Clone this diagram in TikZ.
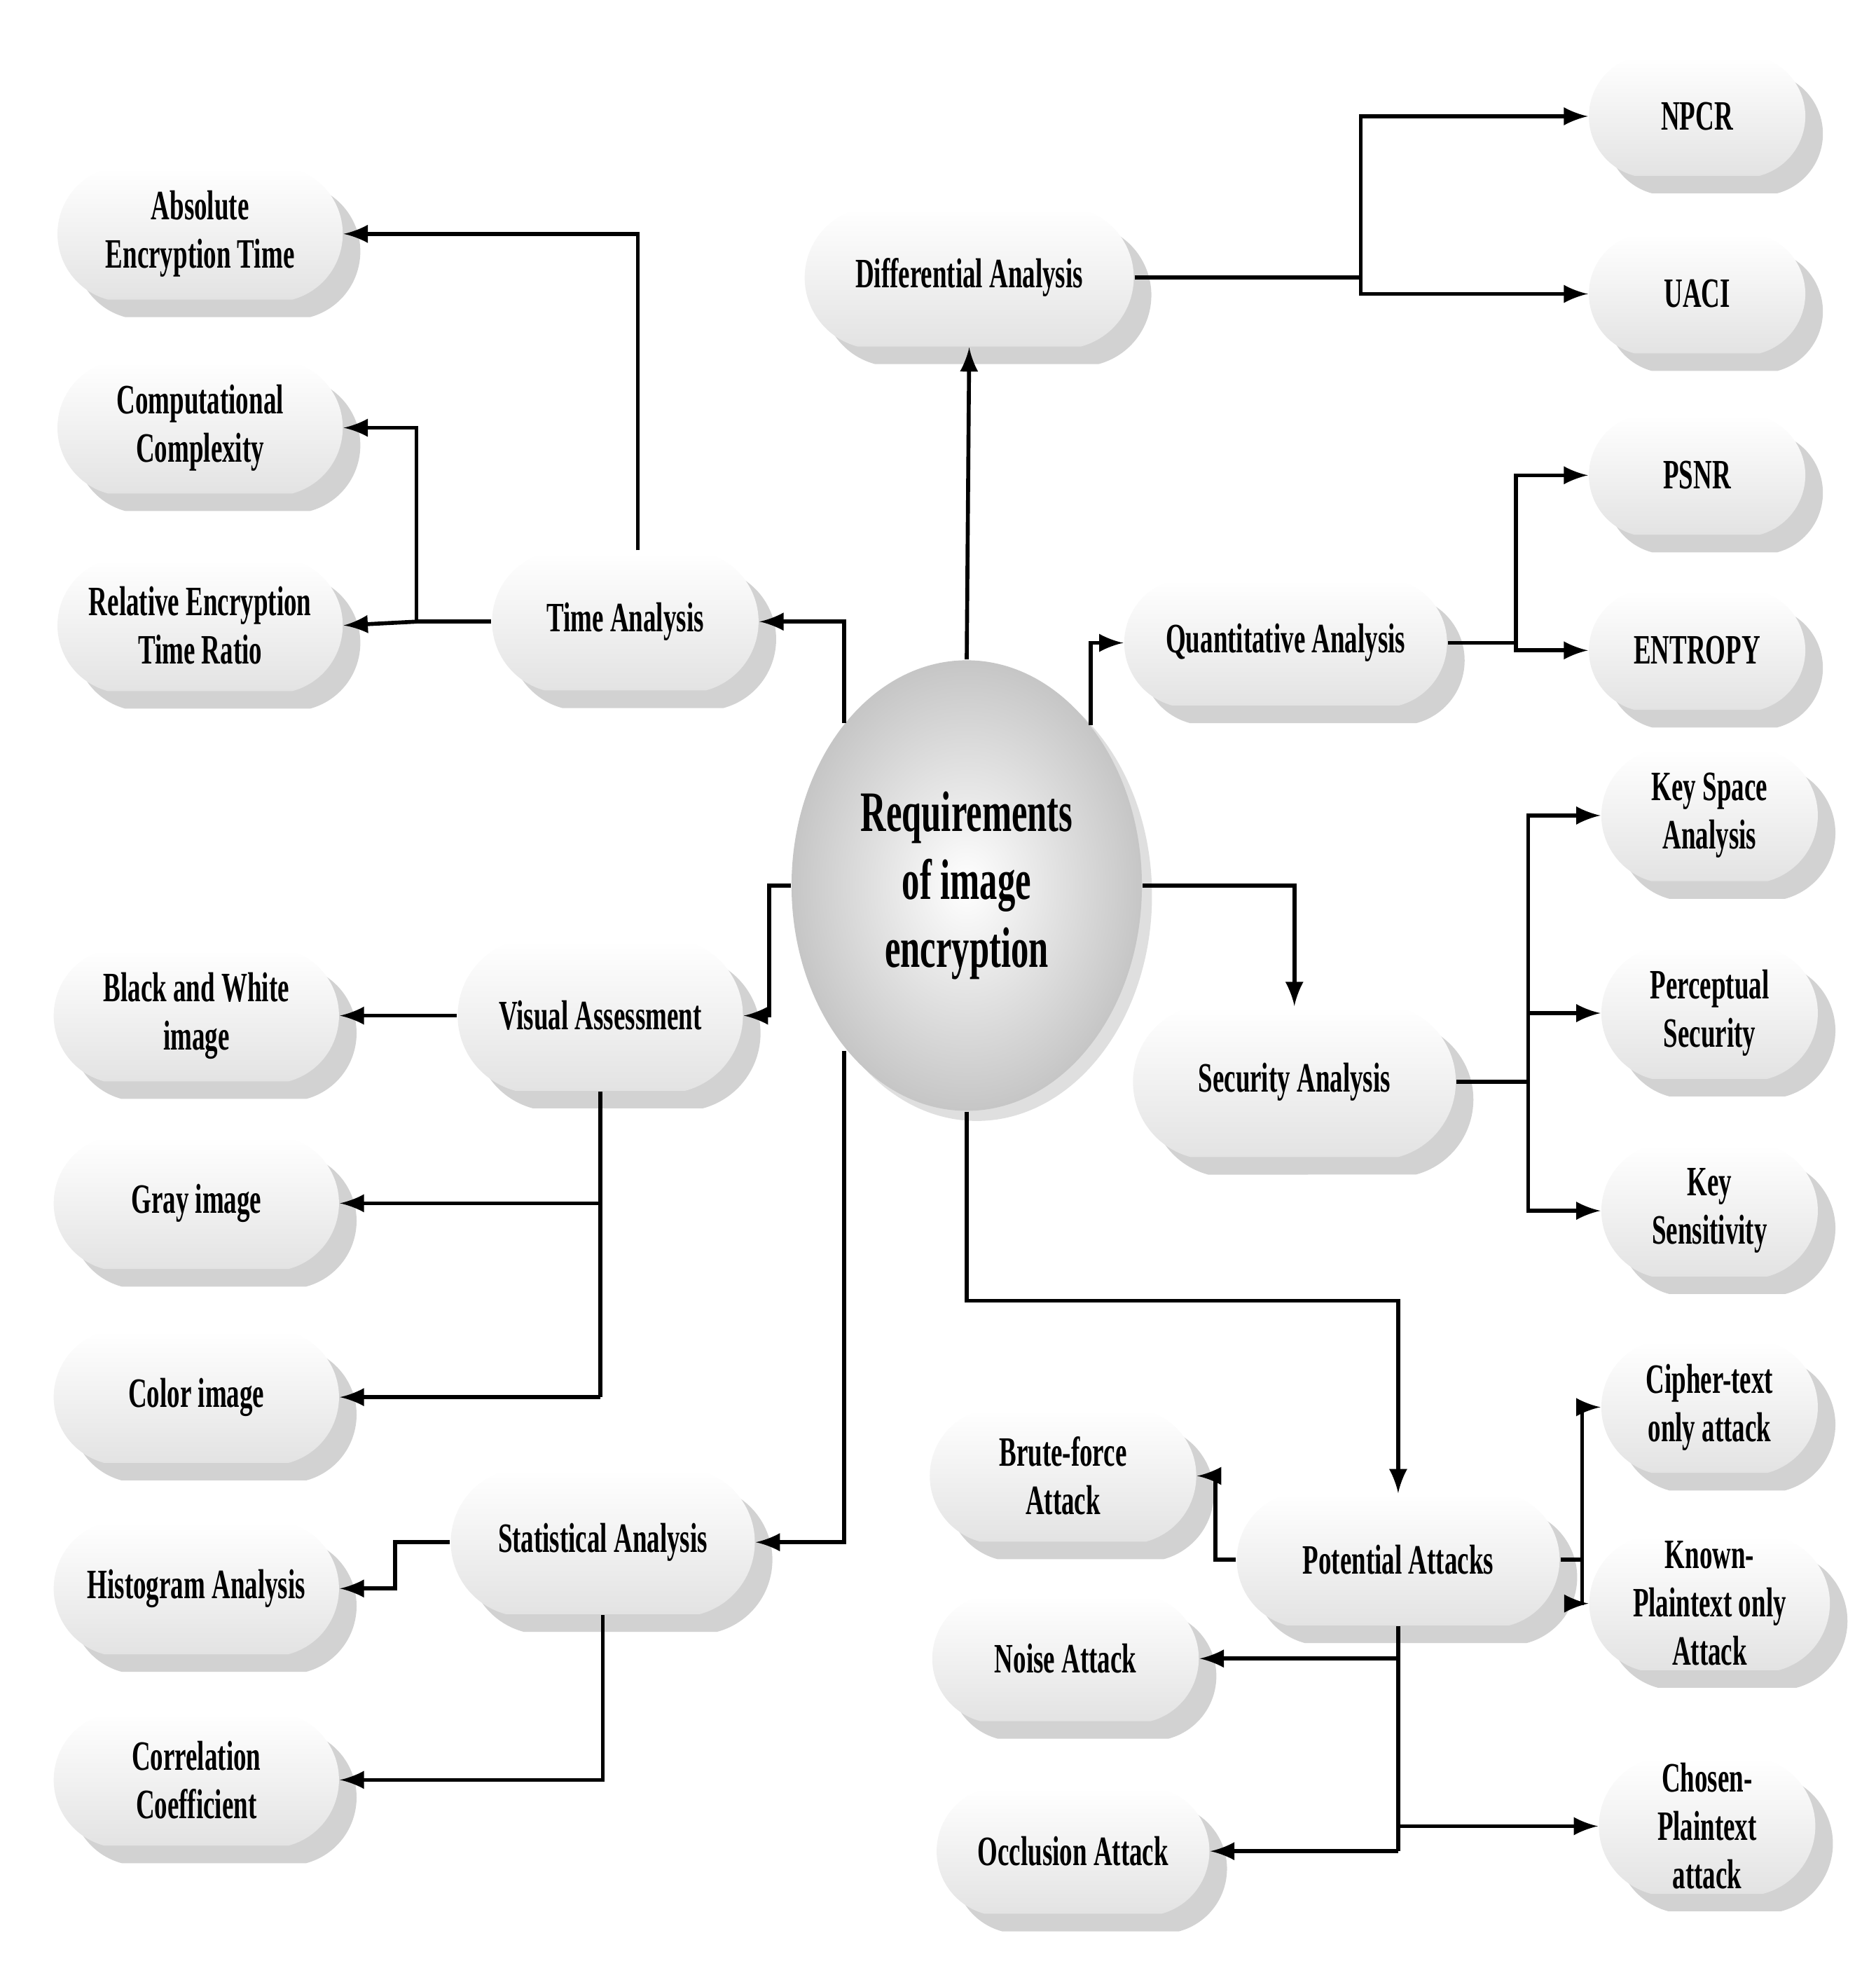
\documentclass[tikz,border=0pt]{standalone}
\usepackage{fontspec}
\setmainfont{Liberation Serif}[FakeStretch=0.62]
\usetikzlibrary{shapes.misc, shapes.geometric, shadows, calc}

\tikzset{
	box/.style = {rounded rectangle, draw = none, top color = white, bottom color = gray!22,
		drop shadow = {shadow xshift = 4pt, shadow yshift = -4pt, fill = gray!70},
		minimum width = #1, minimum height = 1cm, align = center, rounded rectangle arc length = 150,
		font = \bfseries\fontsize{9.5}{11}\selectfont, inner sep = 1pt},
	box/.default = 2.3cm,
	link/.style = {-latex, line width = 0.9pt},
	seg/.style = {line width = 0.9pt}
}

\begin{document}
\begin{tikzpicture}[x = 0.01cm, y = -0.01cm]
	\useasboundingbox (0,0) rectangle (1500,1583);

	% centre
	\node[ellipse, inner color = white, outer color = gray!45, minimum width = 2.8cm, minimum height = 3.6cm, align = center,
		font = \bfseries\fontsize{13}{15.5}\selectfont, drop shadow = {fill = gray!50}] (req) at (773,708)
		{Requirements\\of image\\encryption};

	% first level
	\node[box = 2.7cm, minimum height = 1.1cm] (diff) at (775,222) {Differential Analysis};
	\node[box = 2.65cm] (quant) at (1028,514) {Quantitative Analysis};
	\node[box = 2.65cm, minimum height = 1.2cm] (sec) at (1035,865) {Security Analysis};
	\node[box = 2.65cm, minimum height = 1.05cm] (pot) at (1118,1247) {Potential Attacks};
	\node[box = 2.2cm, minimum height = 1.1cm] (time) at (500,497) {Time Analysis};
	\node[box = 2.35cm, minimum height = 1.2cm] (vis) at (480,812) {Visual Assessment};
	\node[box = 2.5cm, minimum height = 1.15cm] (stat) at (482,1233) {Statistical Analysis};

	% leaves right
	\node[box = 1.8cm, minimum height = 0.95cm] (npcr) at (1357,93) {NPCR};
	\node[box = 1.8cm, minimum height = 0.95cm] (uaci) at (1357,235) {UACI};
	\node[box = 1.8cm, minimum height = 0.95cm] (psnr) at (1357,380) {PSNR};
	\node[box = 1.8cm, minimum height = 0.95cm] (entr) at (1357,520) {ENTROPY};
	\node[box = 1.8cm, minimum height = 1.05cm] (keysp) at (1367,652) {Key Space\\Analysis};
	\node[box = 1.8cm, minimum height = 1.05cm] (perc) at (1367,810) {Perceptual\\Security};
	\node[box = 1.8cm, minimum height = 1.05cm] (keyse) at (1367,968) {Key\\Sensitivity};
	\node[box = 1.8cm, minimum height = 1.05cm] (ciph) at (1367,1125) {Cipher-text\\only attack};
	\node[box = 1.8cm, minimum height = 1.05cm] (known) at (1367,1282) {Known-\\Plaintext only\\Attack};
	\node[box = 1.8cm, minimum height = 1.05cm] (chos) at (1365,1460) {Chosen-\\Plaintext\\attack};
	\node[box = 2.2cm, minimum height = 1.05cm] (brute) at (850,1180) {Brute-force\\Attack};
	\node[box = 2.2cm] (noise) at (852,1326) {Noise Attack};
	\node[box = 2.25cm] (occl) at (858,1480) {Occlusion Attack};

	% leaves left
	\node[box = 2.35cm, minimum height = 1.05cm] (abs) at (160,187) {Absolute\\Encryption Time};
	\node[box = 2.35cm, minimum height = 1.05cm] (comp) at (160,342) {Computational\\Complexity};
	\node[box = 2.35cm, minimum height = 1.05cm] (rel) at (160,500) {Relative Encryption\\Time Ratio};
	\node[box = 2.35cm, minimum height = 1.05cm] (bw) at (157,812) {Black and White\\image};
	\node[box = 2.35cm, minimum height = 1.05cm] (gray) at (157,962) {Gray image};
	\node[box = 2.35cm, minimum height = 1.05cm] (col) at (157,1117) {Color image};
	\node[box = 2.35cm, minimum height = 1.05cm] (hist) at (157,1270) {Histogram Analysis};
	\node[box = 2.35cm, minimum height = 1.05cm] (corr) at (157,1423) {Correlation\\Coefficient};

	% connectors
	\draw[link] (req.north) -- (diff.south);
	\coordinate (d1) at (1088,222);
	\draw[seg] (diff.east) -- (d1);
	\draw[link] (d1) |- (npcr.west);
	\draw[link] (d1) |- (uaci.west);

	\draw[link] (872,580) |- (quant.west);
	\coordinate (q1) at (1212,514);
	\draw[seg] (quant.east) -- (q1);
	\draw[link] (q1) |- (psnr.west);
	\draw[link] (q1) |- (entr.west);

	\draw[link] (req.east) -| (sec.north);
	\coordinate (s1) at (1222,865);
	\draw[seg] (sec.east) -- (s1);
	\draw[link] (s1) |- (keysp.west);
	\draw[link] (s1) -- (perc.west -| s1) -- (perc.west);
	\draw[link] (s1) |- (keyse.west);

	\draw[link] (req.south) -- (773,1040) -| (pot.north);
	\coordinate (p1) at (1265,1247);
	\draw[seg] (pot.east) -- (p1);
	\draw[link] (p1) |- (ciph.west);
	\draw[link] (p1) |- (known.west);
	\draw[link] (pot.west) -- (972,1247) |- (brute.east);
	\coordinate (p2) at (1118,1480);
	\draw[seg] (pot.south) -- (p2);
	\draw[link] (noise.east -| p2) -- (noise.east);
	\draw[link] (p2) -- (occl.east);
	\draw[link] (chos.west -| p2) -- (chos.west);

	\draw[link] (req.west) -- (615,708) |- (vis.east);
	\draw[link] (vis.west) -- (bw.east);
	\coordinate (v1) at (480,1117);
	\draw[seg] (vis.south) -- (v1);
	\draw[link] (gray.east -| v1) -- (gray.east);
	\draw[link] (v1) -- (col.east);

	\draw[link] (675,840) |- (stat.east);
	\draw[link] (stat.west) -- (316,1233) |- (hist.east);
	\draw[link] (stat.south) |- (corr.east);

	\draw[link] (675,578) |- (time.east);
	\draw[link] (510,440) |- (abs.east);
	\coordinate (t1) at (333,497);
	\draw[seg] (time.west) -- (t1);
	\draw[link] (t1) |- (comp.east);
	\draw[link] (t1) -- (rel.east);
\end{tikzpicture}
\end{document}
